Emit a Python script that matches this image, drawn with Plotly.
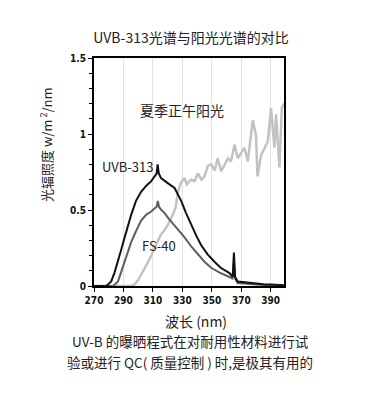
import plotly.graph_objects as go

# Summer noon sunlight
sun_x = [270, 285, 295, 297.6, 300, 302, 304, 306.6, 309, 311, 313, 315.6, 318, 320, 322, 323.6, 325.5, 327, 329, 331.5, 333, 336, 338.3, 340.5, 343, 345, 347.3, 349.5, 352, 354, 356.3, 358.5, 361, 363, 365.4, 367.6, 370, 372.2, 374.4, 376, 377.8, 380, 381, 383.4, 385.7, 388, 390.2, 392.5, 393.6, 395.9, 397.5, 399]
sun_y = [0.0, 0.0, 0.0, 0.01, 0.04, 0.074, 0.11, 0.16, 0.2, 0.25, 0.29, 0.34, 0.37, 0.40, 0.44, 0.47, 0.52, 0.62, 0.68, 0.71, 0.67, 0.70, 0.69, 0.74, 0.70, 0.72, 0.79, 0.80, 0.76, 0.84, 0.755, 0.80, 0.84, 0.82, 0.93, 0.84, 0.88, 0.91, 0.82, 0.95, 1.09, 0.99, 0.72, 0.86, 0.91, 0.95, 1.17, 0.91, 1.13, 0.78, 1.17, 1.2]

# UVB-313 lamp
uvb_x = [270, 278, 279.5, 281.7, 284, 286.3, 288.5, 290.8, 293, 295.3, 298.5, 302, 305.5, 308.9, 311, 312.5, 313.2, 314, 315.5, 317.9, 321, 324.7, 327, 329.2, 332.5, 336, 339.5, 342.7, 347, 351.8, 356, 362, 364.2, 365.0, 365.8, 367.6, 372, 379, 385, 390, 399]
uvb_y = [0.0, 0.0, 0.01, 0.03, 0.09, 0.16, 0.24, 0.32, 0.40, 0.47, 0.56, 0.62, 0.66, 0.69, 0.72, 0.74, 0.80, 0.74, 0.71, 0.69, 0.67, 0.645, 0.60, 0.56, 0.48, 0.40, 0.33, 0.27, 0.21, 0.16, 0.12, 0.085, 0.06, 0.22, 0.06, 0.03, 0.025, 0.02, 0.012, 0.01, 0.005]

# FS-40 lamp
fs_x = [270, 283, 286.3, 288.5, 290.8, 293, 295.3, 298.5, 302, 305.5, 308.9, 311, 312.5, 313.3, 314.2, 315.8, 317.9, 321, 324.7, 328, 331.5, 336, 340.5, 345, 349.5, 355, 360.8, 364, 365.0, 365.8, 367.5, 372, 380, 390, 399]
fs_y = [0.0, 0.0, 0.03, 0.09, 0.16, 0.22, 0.29, 0.36, 0.43, 0.47, 0.49, 0.51, 0.52, 0.56, 0.52, 0.50, 0.48, 0.44, 0.40, 0.36, 0.32, 0.26, 0.21, 0.16, 0.12, 0.09, 0.064, 0.05, 0.16, 0.05, 0.02, 0.015, 0.01, 0.005, 0.0]

x_ticks = [270, 290, 310, 330, 350, 370, 390]
y_ticks = [0, 0.5, 1, 1.5]
y_tick_labels = ["0", "0.5", "1", "1.5"]

CJK = "Noto Sans CJK SC"
TICKFONT = dict(family="DejaVu Sans Condensed", size=10, color="#111", weight="bold")

fig = go.Figure()
fig.add_trace(go.Scatter(x=sun_x, y=sun_y, mode="lines",
                         line=dict(color="#c2c2c2", width=2.5), name="夏季正午阳光"))
fig.add_trace(go.Scatter(x=fs_x, y=fs_y, mode="lines",
                         line=dict(color="#5e5e5e", width=2), name="FS-40"))
fig.add_trace(go.Scatter(x=uvb_x, y=uvb_y, mode="lines",
                         line=dict(color="#111111", width=2), name="UVB-313"))

fig.update_layout(
    width=366, height=393,
    margin=dict(l=86, r=90, t=50, b=115),
    paper_bgcolor="white", plot_bgcolor="white",
    showlegend=False,
    title=dict(text="UVB-313光谱与阳光光谱的对比", x=0.5, xanchor="center",
               y=1 - 30 / 393, yanchor="middle",
               font=dict(family=CJK, size=14, color="#222")),
)

fig.update_xaxes(
    range=[270, 399], tickvals=x_ticks, ticktext=[str(v) for v in x_ticks],
    showgrid=True, gridcolor="#e2e2e2", gridwidth=1,
    showline=True, linecolor="black", linewidth=2, mirror=True,
    ticks="outside", ticklen=4, tickcolor="black", tickfont=TICKFONT,
    zeroline=False,
)
fig.update_yaxes(
    range=[0, 1.5], tickvals=y_ticks, ticktext=y_tick_labels,
    showgrid=False,
    showline=True, linecolor="black", linewidth=2, mirror=True,
    ticks="outside", ticklen=4, tickcolor="black", tickfont=TICKFONT,
    minor=dict(dtick=0.1, ticks="outside", ticklen=3, tickcolor="black", showgrid=False),
    zeroline=False,
)

# text labels positioned in page pixels, converted to plot-area paper coordinates
annotations = [
    dict(text="夏季正午阳光", px=174, py=102, size=14),
    dict(text="UVB-313", px=120, py=158, size=13),
    dict(text="FS-40", px=151, py=237, size=13),
    dict(text="波长 (nm)", px=188, py=313, size=14),
    dict(text="UV-B 的曝晒程式在对耐用性材料进行试", px=182, py=333, size=13.5),
    dict(text="验或进行 QC( 质量控制 ) 时,是极其有用的", px=182, py=354, size=13.5),
]
pl, pr, pt, pb = 86, 276, 50, 278
for a in annotations:
    fig.add_annotation(text=a["text"], x=(a["px"] - pl) / (pr - pl), y=(pb - a["py"]) / (pb - pt),
                       xref="paper", yref="paper", xanchor="center", yanchor="middle",
                       showarrow=False,
                       font=dict(family=CJK, size=a["size"], color="#222"))
fig.add_annotation(text="光辐照度 w/m<sup> 2</sup>/nm", x=(38 - pl) / (pr - pl), y=(pb - 137) / (pb - pt),
                   xref="paper", yref="paper", xanchor="center", yanchor="middle",
                   textangle=-90, showarrow=False,
                   font=dict(family=CJK, size=13, color="#222"))

fig.write_html("out.html")
